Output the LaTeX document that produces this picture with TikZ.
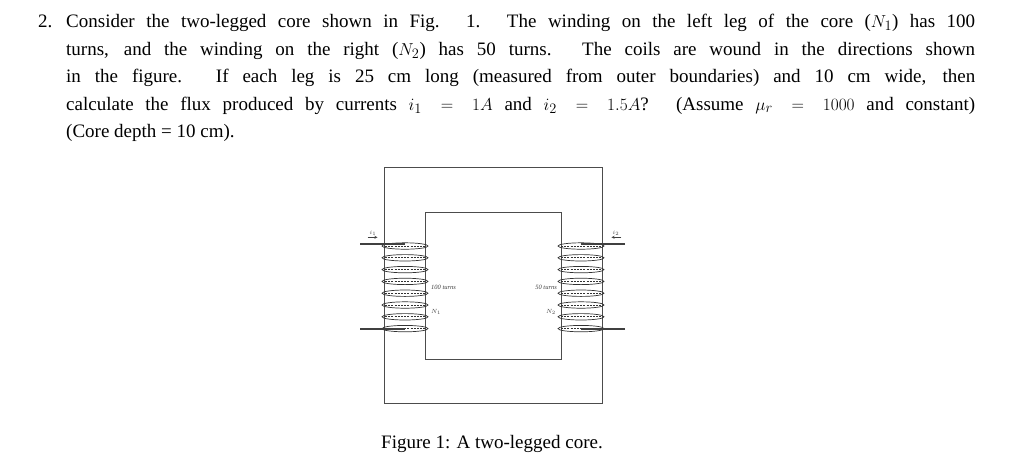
\documentclass[tikz,border=0pt]{standalone}
\usepackage{fontspec}
\setmainfont{Liberation Serif}
\usetikzlibrary{positioning}
\tikzset{
    txt/.style={anchor=base west, inner sep=0pt, font=\fontsize{19}{22}\selectfont},
    core/.style={draw=black!70, line width=0.9pt},
    lead/.style={draw=black!75, line width=1.1pt},
    turn/.style={draw=black!80, line width=0.7pt},
    tiny/.style={inner sep=0pt, font=\fontsize{6.5}{7}\selectfont\itshape, text=black!75}
}
\newcommand{\jline}[1]{\makebox[909pt][s]{#1}}
\begin{document}
\begin{tikzpicture}[x=1pt, y=-1pt]
    \useasboundingbox (0,0) rectangle (1024,467);
    % question text
    \node[txt] (num) at (38,27) {2.};
    \node[txt] (l1) at (66,27) {\jline{Consider the two-legged core shown in Fig. 1. The winding on the left leg of the core ($N_1$) has 100}};
    \node[txt] (l2) at (66,55) {\jline{turns, and the winding on the right ($N_2$) has 50 turns. The coils are wound in the directions shown}};
    \node[txt] (l3) at (66,82) {\jline{in the figure. If each leg is 25 cm long (measured from outer boundaries) and 10 cm wide, then}};
    \node[txt] (l4) at (66,110) {\jline{calculate the flux produced by currents $i_1 = 1A$ and $i_2 = 1.5A$? (Assume $\mu_r = 1000$ and constant)}};
    \node[txt] (l5) at (66,137) {(Core depth = 10 cm).};
    % core
    \draw[core] (384,167) rectangle (602,403);
    \draw[core] (425,212) rectangle (561,359);
    % coils
    \foreach \cx in {405,581}{
        \foreach \k in {0,...,7}{
            \draw[turn] (\cx,{246+\k*11.8}) ellipse (23 and 3.2);
            \draw[turn, dashed, dash pattern=on 2pt off 1.2pt] (\cx-20,{246+\k*11.8}) -- (\cx+20,{246+\k*11.8});
        }
    }
    % leads
    \coordinate (la) at (360,244);
    \coordinate (lb) at (360,329);
    \coordinate (ra) at (625,244);
    \coordinate (rb) at (625,329);
    \coordinate (lca) at (405,244);
    \coordinate (lcb) at (405,329);
    \coordinate (rca) at (581,244);
    \coordinate (rcb) at (581,329);
    \draw[lead] (la) -- (lca);
    \draw[lead] (lb) -- (lcb);
    \draw[lead] (ra) -- (rca);
    \draw[lead] (rb) -- (rcb);
    % currents
    \node[tiny] (i1) at (373,233) {$i_1$};
    \node[tiny] (i2) at (616,233) {$i_2$};
    \draw[->, >=stealth, thin, black!75] (i1.south west) ++(-2,1.5) coordinate (i1a) -- ++(10,0);
    \draw[->, >=stealth, thin, black!75] (i2.south east) ++(2,1.5) coordinate (i2a) -- ++(-10,0);
    % labels
    \node[tiny, anchor=west] (t1) at (431,287) {100 turns};
    \node[tiny, anchor=east] (t2) at (557,287) {50 turns};
    \node[tiny, anchor=west] (n1) at (431,312) {$N_1$};
    \node[tiny, anchor=east] (n2) at (556,312) {$N_2$};
    % caption
    \node[anchor=base, inner sep=0pt, font=\fontsize{19}{22}\selectfont] (cap) at (492,448) {Figure 1: A two-legged core.};
\end{tikzpicture}
\end{document}
